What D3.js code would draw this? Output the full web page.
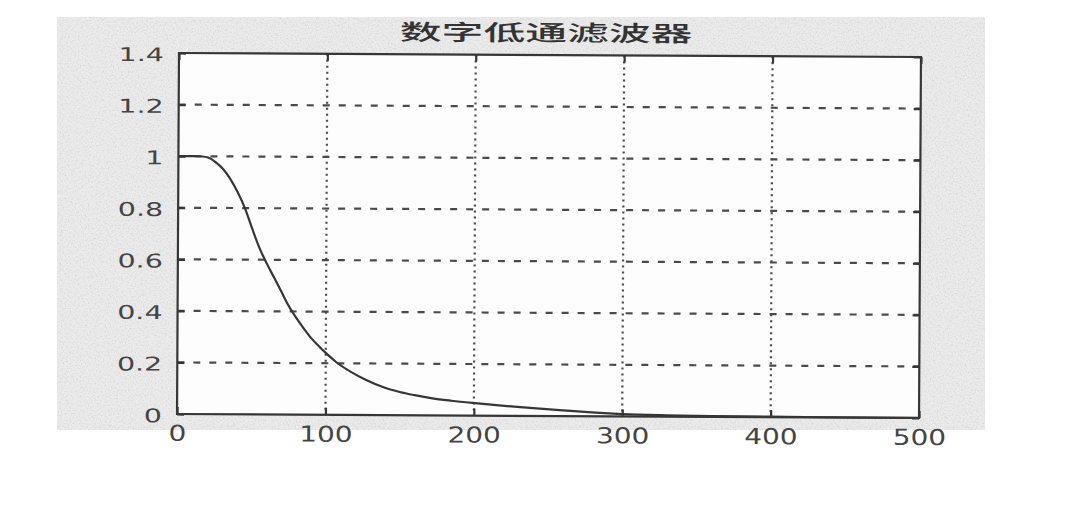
<!DOCTYPE html>
<html>
<head>
<meta charset="utf-8">
<script src="https://cdn.jsdelivr.net/npm/d3@7"></script>
<style>
  html, body { margin: 0; padding: 0; background: #ffffff; }
  svg { display: block; }
</style>
</head>
<body>
<svg id="chart" width="1070" height="507"></svg>
<script>
// ---- data ----
const chartTitle = "数字低通滤波器";
const xTickValues = [0, 100, 200, 300, 400, 500];
const xTickLabels = ["0", "100", "200", "300", "400", "500"];
const yTickValues = [0, 0.2, 0.4, 0.6, 0.8, 1, 1.2, 1.4];
const yTickLabels = ["0", "0.2", "0.4", "0.6", "0.8", "1", "1.2", "1.4"];
const freq = [0, 10, 16, 20, 25, 30, 35, 40, 45, 50, 55, 60, 65, 70, 75, 80, 85, 90, 95, 100, 107, 117, 127, 140, 150, 160, 172, 185, 199, 217, 240, 260, 282, 300, 330, 360, 400, 450, 500];
const gain = [1, 1, 0.999, 0.995, 0.978, 0.952, 0.913, 0.862, 0.8, 0.72, 0.645, 0.585, 0.53, 0.475, 0.42, 0.375, 0.335, 0.298, 0.268, 0.24, 0.205, 0.167, 0.137, 0.106, 0.09, 0.078, 0.066, 0.057, 0.049, 0.04, 0.03, 0.022, 0.014, 0.009, 0.005, 0.003, 0.002, 0.001, 0.0005];

// ---- layout ----
const W = 1070, H = 507;
const plot = { left: 178, right: 920, top: 55, bottom: 416 };
const tilt = 0.31; // degrees, the scanned page is slightly rotated
const ink = "#363636";
const gridInk = "#4a4a4a";

const svg = d3.select("#chart");

// scanned paper background
const defs = svg.append("defs");
const f = defs.append("filter").attr("id", "grain").attr("x", 0).attr("y", 0).attr("width", 1).attr("height", 1);
f.append("feTurbulence").attr("type", "fractalNoise").attr("baseFrequency", 0.6).attr("numOctaves", 2).attr("seed", 7).attr("result", "n");
f.append("feColorMatrix").attr("in", "n").attr("type", "matrix")
  .attr("values", "0 0 0 0 0.5  0 0 0 0 0.5  0 0 0 0 0.5  2 0 0 0 -0.9");

svg.append("rect").attr("x", 57).attr("y", 17).attr("width", 928).attr("height", 413).attr("fill", "#ebebeb");
svg.append("rect").attr("x", 57).attr("y", 17).attr("width", 928).attr("height", 413)
  .attr("filter", "url(#grain)").attr("opacity", 0.5);

const cx = (plot.left + plot.right) / 2, cy = (plot.top + plot.bottom) / 2;
const g = svg.append("g").attr("transform", `rotate(${tilt},${cx},${cy})`);

const x = d3.scaleLinear().domain([0, 500]).range([plot.left, plot.right]);
const y = d3.scaleLinear().domain([0, 1.4]).range([plot.bottom, plot.top]);

// white plotting area
g.append("rect")
  .attr("x", plot.left).attr("y", plot.top)
  .attr("width", plot.right - plot.left).attr("height", plot.bottom - plot.top)
  .attr("fill", "#fdfdfd");

// grid
g.append("g").selectAll("line").data(yTickValues.filter(v => v > 0 && v < 1.4)).join("line")
  .attr("x1", plot.left).attr("x2", plot.right)
  .attr("y1", d => y(d)).attr("y2", d => y(d))
  .attr("stroke", gridInk).attr("stroke-width", 2.2).attr("stroke-dasharray", "7,9");
g.append("g").selectAll("line").data(xTickValues.filter(v => v > 0 && v < 500)).join("line")
  .attr("x1", d => x(d)).attr("x2", d => x(d))
  .attr("y1", plot.top).attr("y2", plot.bottom)
  .attr("stroke", gridInk).attr("stroke-width", 2.2).attr("stroke-dasharray", "2,4");

// curve
const line = d3.line().x((d, i) => x(freq[i])).y(d => y(d)).curve(d3.curveMonotoneX);
g.append("path").datum(gain).attr("d", line)
  .attr("fill", "none").attr("stroke", ink).attr("stroke-width", 2.2);

// axes
const yAxis = d3.axisLeft(y).tickValues(yTickValues).tickFormat((d, i) => yTickLabels[i])
  .tickSizeInner(-7).tickSizeOuter(0).tickPadding(0);
const xAxis = d3.axisBottom(x).tickValues(xTickValues).tickFormat((d, i) => xTickLabels[i])
  .tickSizeInner(-7).tickSizeOuter(0).tickPadding(0);

const ya = g.append("g").attr("transform", `translate(${plot.left},0)`).call(yAxis);
ya.select(".domain").remove();
ya.selectAll(".tick line").attr("stroke", ink).attr("stroke-width", 2.2);
ya.selectAll(".tick text")
  .attr("x", 0).attr("dy", "0.36em")
  .attr("transform", "translate(-15,1) scale(1.5,1)")
  .attr("text-anchor", "end")
  .attr("fill", "#444444")
  .style("font-family", "'DejaVu Sans', sans-serif").style("font-size", "19px");

const xa = g.append("g").attr("transform", `translate(0,${plot.bottom})`).call(xAxis);
xa.select(".domain").remove();
xa.selectAll(".tick line").attr("stroke", ink).attr("stroke-width", 2.2);
xa.selectAll(".tick text")
  .attr("y", 0).attr("dy", "0.36em")
  .attr("transform", "translate(0,19) scale(1.27,1)")
  .attr("text-anchor", "middle")
  .attr("fill", "#444444")
  .style("font-family", "'DejaVu Sans', sans-serif").style("font-size", "22px");

const ta = g.append("g").attr("transform", `translate(0,${plot.top})`)
  .call(d3.axisTop(x).tickValues(xTickValues).tickFormat("").tickSizeInner(-7).tickSizeOuter(0));
ta.select(".domain").remove();
ta.selectAll(".tick line").attr("stroke", ink).attr("stroke-width", 2.2);

const ra = g.append("g").attr("transform", `translate(${plot.right},0)`)
  .call(d3.axisRight(y).tickValues(yTickValues).tickFormat("").tickSizeInner(-7).tickSizeOuter(0));
ra.select(".domain").remove();
ra.selectAll(".tick line").attr("stroke", ink).attr("stroke-width", 2.2);

// frame
g.append("rect")
  .attr("x", plot.left).attr("y", plot.top)
  .attr("width", plot.right - plot.left).attr("height", plot.bottom - plot.top)
  .attr("fill", "none").attr("stroke", ink).attr("stroke-width", 2.2);

// title
g.append("text")
  .attr("x", 0).attr("y", 0)
  .attr("transform", "translate(545,33) scale(1.9,1)")
  .attr("text-anchor", "middle").attr("dy", "0.36em")
  .attr("fill", "#333333")
  .style("font-family", "'Noto Sans CJK SC', sans-serif")
  .style("font-size", "22px").style("font-weight", "500")
  .text(chartTitle);
</script>
</body>
</html>
